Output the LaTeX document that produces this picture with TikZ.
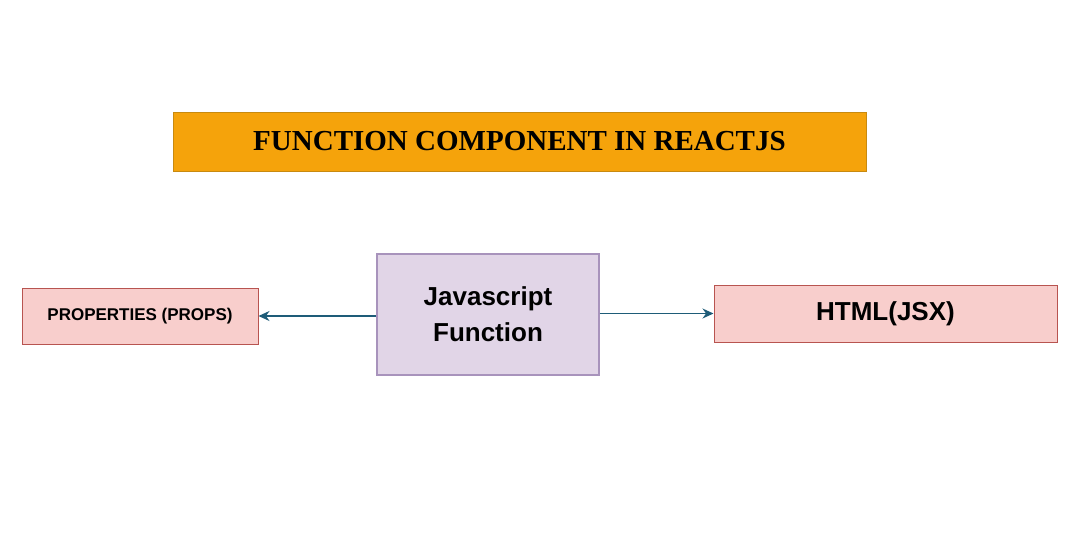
\documentclass[tikz,border=0pt]{standalone}
\usepackage{fontspec}
\setmainfont{Liberation Serif}
\setsansfont{Liberation Sans}
\usetikzlibrary{arrows.meta}
\definecolor{orng}{HTML}{F5A30B}
\definecolor{orngb}{HTML}{C88A10}
\definecolor{pnk}{HTML}{F8CECC}
\definecolor{pnkb}{HTML}{B85450}
\definecolor{lav}{HTML}{E1D5E7}
\definecolor{lavb}{HTML}{A893BC}
\definecolor{arr}{HTML}{1E5C78}
\begin{document}
\begin{tikzpicture}[x=1pt,y=-1pt,
  pbox/.style={draw=pnkb,fill=pnk,line width=1pt,font=\sffamily\bfseries},
  conn/.style={draw=arr,line width=1.3pt,-{Stealth[length=11pt,width=10pt]}}]
\useasboundingbox[fill=white] (0,0) rectangle (1080,550);
\node[draw=orngb,fill=orng,line width=1pt,minimum width=693pt,minimum height=59pt,font=\fontsize{29}{32}\selectfont\bfseries] (title) at (519.5,141.5) {FUNCTION COMPONENT IN REACTJS};
\node[pbox,minimum width=236pt,minimum height=56pt,font=\sffamily\bfseries\fontsize{17}{20}\selectfont] (props) at (140,316) {PROPERTIES (PROPS)};
\node[draw=lavb,fill=lav,line width=1.2pt,minimum width=222pt,minimum height=121pt,align=center,font=\sffamily\bfseries\fontsize{26}{36}\selectfont] (js) at (488,314.5) {Javascript\\Function};
\node[pbox,minimum width=343pt,minimum height=57pt,font=\sffamily\bfseries\fontsize{26}{30}\selectfont] (html) at (885.5,313.5) {HTML(JSX)};
\draw[conn] (js.west |- props.east) -- (props.east);
\draw[conn] (js.east |- html.west) -- (html.west);
\end{tikzpicture}
\end{document}
